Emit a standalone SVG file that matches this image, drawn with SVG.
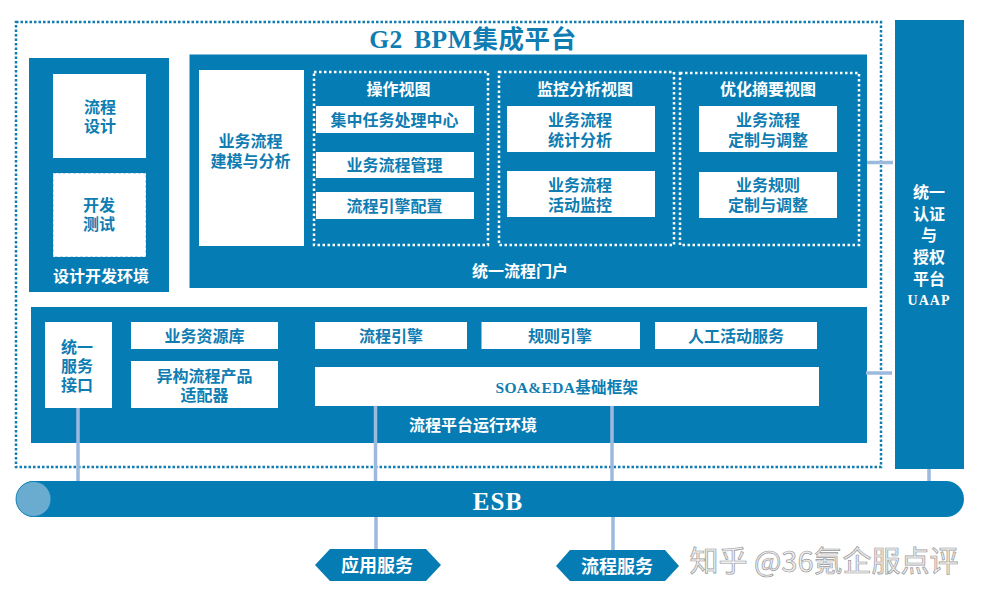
<svg xmlns="http://www.w3.org/2000/svg" width="983" height="600" viewBox="0 0 983 600">
<style>
text{font-family:"Liberation Serif","Noto Sans CJK SC",serif;font-weight:700;text-anchor:middle;font-size:16px}
.p{fill:#067cb4}
.w{fill:#fff}
.t{fill:#0f7cb2}
.l{fill:#fff}
.d{fill:none;stroke:#fff;stroke-width:2.500;stroke-dasharray:2.500 2.500}
.c{stroke:#9db9de;stroke-width:3.500;fill:none}
</style>
<rect width="983" height="600" fill="#fff"/>
<g id="platform">
<rect x="16" y="22" width="865" height="445" fill="none" stroke="#0f7cb2" stroke-width="2.500" stroke-dasharray="2.500 2"/>
<text x="473" y="48" style="font-size:25.500px;word-spacing:4px;letter-spacing:.6px" class="t">G2 BPM集成平台</text>
</g>
<g id="design-env">
<rect class="p" x="29" y="58" width="140" height="234"/>
<text class="l" x="101" y="282">设计开发环境</text>
</g>
<g id="flow-design">
<rect class="w" x="53" y="74" width="93" height="84"/>
<text class="t" x="100" y="113">流程</text><text class="t" x="100" y="132">设计</text>
</g>
<g id="dev-test">
<rect class="w" x="53" y="173" width="93" height="84" stroke="#0f7cb2" stroke-dasharray="3 2" stroke-width="0.500"/>
<text class="t" x="99" y="211">开发</text><text class="t" x="99" y="230">测试</text>
</g>
<g id="portal">
<rect class="p" x="189.500" y="54.500" width="677.500" height="233.500"/>
<text class="l" x="520" y="277">统一流程门户</text>
</g>
<g id="modeling">
<rect class="w" x="199" y="70" width="105" height="176"/>
<text class="t" x="250.500" y="147">业务流程</text><text class="t" x="250.500" y="167">建模与分析</text>
</g>
<g id="ops-view">
<rect class="d" x="314" y="72" width="174" height="173"/>
<text class="l" x="398.500" y="95">操作视图</text>
</g>
<g id="ops-1"><rect class="w" x="316" y="106" width="158" height="27"/><text class="t" x="394.500" y="126">集中任务处理中心</text></g>
<g id="ops-2"><rect class="w" x="316" y="152" width="158" height="26"/><text class="t" x="394.500" y="171">业务流程管理</text></g>
<g id="ops-3"><rect class="w" x="316" y="192" width="158" height="27"/><text class="t" x="394.500" y="212">流程引擎配置</text></g>
<g id="monitor-view">
<rect class="d" x="499" y="72" width="175" height="173"/>
<text class="l" x="585" y="95">监控分析视图</text>
</g>
<g id="mon-1"><rect class="w" x="507" y="106" width="148" height="46"/><text class="t" x="580" y="126">业务流程</text><text class="t" x="580" y="146">统计分析</text></g>
<g id="mon-2"><rect class="w" x="507" y="171" width="148" height="46"/><text class="t" x="580" y="191">业务流程</text><text class="t" x="580" y="211">活动监控</text></g>
<g id="opt-view">
<rect class="d" x="680" y="73" width="179" height="172"/>
<text class="l" x="768" y="95">优化摘要视图</text>
</g>
<g id="opt-1"><rect class="w" x="699" y="106" width="138" height="46"/><text class="t" x="768" y="126">业务流程</text><text class="t" x="768" y="146">定制与调整</text></g>
<g id="opt-2"><rect class="w" x="699" y="172" width="138" height="46"/><text class="t" x="768" y="191">业务规则</text><text class="t" x="768" y="211">定制与调整</text></g>
<g id="runtime">
<rect class="p" x="31" y="307" width="836" height="136"/>
<text class="l" x="473" y="431">流程平台运行环境</text>
</g>
<g id="svc-if"><rect class="w" x="45" y="322" width="67" height="86"/><text class="t" x="77" y="353">统一</text><text class="t" x="77" y="372">服务</text><text class="t" x="77" y="391">接口</text></g>
<g id="res"><rect class="w" x="131" y="322" width="147" height="27"/><text class="t" x="204.500" y="342">业务资源库</text></g>
<g id="adapter"><rect class="w" x="131" y="361" width="147" height="47"/><text class="t" x="204.500" y="382">异构流程产品</text><text class="t" x="204.500" y="401">适配器</text></g>
<g id="engine"><rect class="w" x="315" y="322" width="152" height="27"/><text class="t" x="391" y="342">流程引擎</text></g>
<g id="rules"><rect class="w" x="481.500" y="322" width="158.500" height="27"/><text class="t" x="560" y="342">规则引擎</text></g>
<g id="human"><rect class="w" x="655" y="322" width="162" height="27"/><text class="t" x="736" y="342">人工活动服务</text></g>
<g id="soa"><rect class="w" x="315" y="367" width="504" height="39"/><text class="t" x="567" y="393" style="font-size:15.500px;letter-spacing:.3px">SOA&amp;EDA基础框架</text></g>
<g id="uaap">
<rect class="p" x="895" y="20" width="69" height="449"/>
<g style="font-size:17.500px"><text class="l" x="929" y="198">统一</text><text class="l" x="929" y="220">认证</text><text class="l" x="929" y="241">与</text><text class="l" x="929" y="263">授权</text><text class="l" x="929" y="285">平台</text></g>
<text class="l" x="929" y="305" style="font-size:14px;letter-spacing:1px">UAAP</text>
</g>
<g id="connectors">
<path class="c" d="M78 408V481M375.500 406V481M612 406V481M376 517V549M613 517V550M929 469V481M867 162.500H893M866 373H892"/>
</g>
<g id="esb">
<rect class="p" x="16" y="481" width="948" height="36" rx="18"/>
<circle cx="33.500" cy="499" r="17.500" fill="#6aaccf" stroke="#067cb4" stroke-width="0.800"/>
<text class="l" x="498" y="510" style="font-size:25px;letter-spacing:1px">ESB</text>
</g>
<g id="app-svc">
<polygon class="p" points="315,565 330,549 426,549 441,565 426,581 330,581"/>
<text class="l" x="377" y="572" style="font-size:18px">应用服务</text>
</g>
<g id="flow-svc">
<polygon class="p" points="556,566 570,550 665,550 679,566 665,581 570,581"/>
<text class="l" x="617" y="573" style="font-size:18px">流程服务</text>
</g>
<text x="824" y="572" style="font-size:29px;font-weight:400;font-family:'Noto Sans CJK SC',sans-serif;fill:#eee;stroke:#999;stroke-width:.7">知乎 @36氪企服点评</text>
</svg>
